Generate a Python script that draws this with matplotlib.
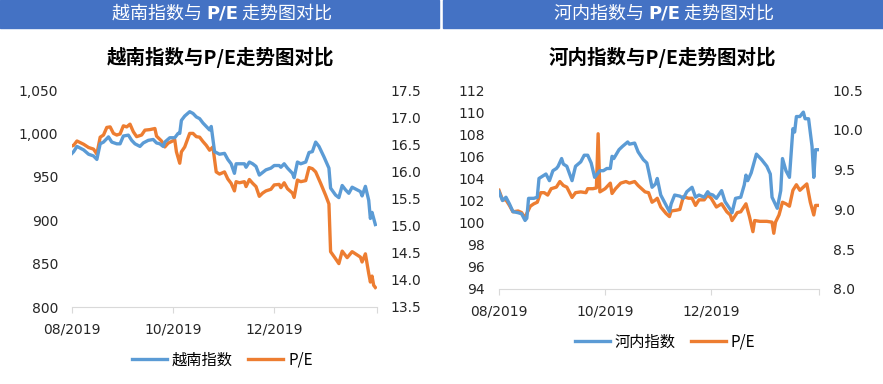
import matplotlib
matplotlib.use('Agg')
import matplotlib.pyplot as plt
from matplotlib.text import Annotation
import pandas as pd

# ************************* Data ***********************

# days counted from 2019-08-01
vn_idx_days = [0, 1, 3, 7, 10, 13, 15, 17, 19, 22, 24, 27, 29, 31, 34, 36, 38,
               41, 43, 46, 49, 51, 53, 55, 56, 59, 62, 64, 65, 66, 68, 71, 73,
               75, 77, 79, 81, 83, 84, 86, 89, 92, 94, 96, 98, 99, 101, 104,
               105, 107, 109, 111, 113, 115, 117, 120, 122, 125, 126, 128, 130,
               133, 134, 136, 138, 141, 143, 145, 147, 149, 152, 155, 156, 159,
               161, 163, 165, 167, 169, 172, 174, 175, 177, 179, 180, 181, 183]
vn_idx = [977, 979, 985, 981, 976, 974, 970, 988, 990, 996, 990, 988, 988, 997,
          998, 992, 988, 985, 989, 992, 993, 989, 988, 985, 990, 995, 995, 1000,
          1000, 1015, 1020, 1025, 1023, 1019, 1017, 1012, 1008, 1004, 1008,
          979, 976, 977, 970, 965, 954, 965, 965, 965, 961, 967, 965, 962, 952,
          955, 958, 960, 963, 963, 961, 965, 960, 954, 949, 967, 965, 967, 978,
          979, 990, 985, 973, 960, 937, 929, 926, 940, 935, 931, 938, 935, 933,
          928, 939, 923, 902, 909, 895]

vn_pe_days = [0, 1, 3, 7, 10, 13, 15, 17, 19, 21, 23, 25, 27, 29, 31, 33, 35,
              37, 39, 42, 44, 47, 50, 51, 54, 56, 58, 60, 62, 63, 65, 66, 68,
              71, 73, 75, 77, 79, 81, 83, 85, 87, 89, 92, 94, 96, 98, 99, 101,
              104, 105, 107, 109, 111, 113, 115, 117, 120, 122, 125, 126, 128,
              130, 133, 134, 136, 138, 141, 143, 145, 147, 150, 153, 155, 156,
              159, 161, 163, 166, 169, 171, 174, 175, 177, 179, 180, 181, 182,
              183]
vn_pe = [16.47, 16.48, 16.56, 16.50, 16.44, 16.41, 16.32, 16.63, 16.67, 16.81,
         16.82, 16.70, 16.67, 16.69, 16.84, 16.82, 16.87, 16.73, 16.64, 16.67,
         16.76, 16.77, 16.79, 16.65, 16.56, 16.45, 16.52, 16.55, 16.58, 16.36,
         16.15, 16.36, 16.45, 16.70, 16.70, 16.64, 16.63, 16.55, 16.48, 16.39,
         16.45, 15.99, 15.95, 15.99, 15.86, 15.78, 15.64, 15.81, 15.79, 15.81,
         15.72, 15.85, 15.78, 15.72, 15.54, 15.60, 15.64, 15.67, 15.75, 15.76,
         15.70, 15.79, 15.68, 15.60, 15.52, 15.84, 15.81, 15.83, 16.07, 16.05,
         15.99, 15.78, 15.56, 15.40, 14.52, 14.39, 14.30, 14.53, 14.41, 14.52,
         14.48, 14.42, 14.33, 14.48, 14.12, 13.96, 14.07, 13.90, 13.86]

hn_idx_days = [0, 2, 4, 6, 8, 11, 13, 15, 16, 17, 20, 22, 23, 25, 27, 29, 31,
               33, 34, 36, 37, 39, 42, 44, 47, 49, 51, 53, 55, 58, 60, 62, 64,
               65, 66, 69, 71, 74, 75, 78, 80, 83, 85, 86, 88, 90, 91, 93, 96,
               98, 99, 101, 104, 106, 108, 111, 113, 115, 118, 120, 121, 123,
               125, 128, 130, 133, 134, 136, 139, 141, 142, 143, 145, 148, 151,
               154, 156, 157, 160, 162, 163, 165, 167, 169, 170, 171, 173, 175,
               176, 178, 180, 181, 182, 184]
hn_idx = [102.8, 102.0, 102.3, 101.7, 101.0, 100.9, 100.8, 100.2, 100.4, 102.2,
          102.2, 102.3, 104.0, 104.2, 104.4, 103.8, 104.7, 104.9, 105.1, 105.8,
          105.3, 105.1, 103.8, 105.1, 105.5, 106.1, 106.1, 105.4, 104.1, 104.7,
          104.7, 104.9, 104.9, 106.0, 105.8, 106.6, 106.9, 107.3, 107.1, 107.2,
          106.4, 105.7, 105.4, 104.7, 103.2, 103.5, 104.0, 102.5, 101.6, 101.0,
          101.7, 102.5, 102.4, 102.2, 102.8, 103.2, 102.3, 102.5, 102.3, 102.8,
          102.6, 102.5, 102.2, 102.9, 101.9, 101.2, 100.9, 102.2, 102.3, 103.4,
          104.3, 103.8, 104.5, 106.2, 105.7, 105.1, 104.4, 102.3, 101.3, 102.9,
          105.8, 104.7, 104.1, 108.5, 108.2, 109.6, 109.6, 110.0, 109.4, 109.4,
          106.9, 104.1, 106.6, 106.6]

hn_pe_days = [0, 2, 4, 6, 8, 11, 13, 15, 16, 18, 20, 22, 24, 26, 28, 30, 33,
              35, 37, 39, 42, 44, 47, 50, 51, 54, 56, 57, 58, 61, 64, 65, 67,
              70, 73, 75, 78, 80, 82, 84, 86, 88, 90, 91, 93, 96, 98, 99, 102,
              104, 106, 109, 111, 113, 115, 118, 120, 122, 125, 128, 131, 133,
              134, 137, 139, 142, 144, 146, 147, 150, 154, 157, 158, 159, 161,
              163, 165, 167, 169, 171, 173, 175, 177, 179, 181, 182, 184]
hn_pe = [9.24, 9.12, 9.12, 9.05, 8.97, 8.98, 8.96, 8.89, 8.95, 9.04, 9.07, 9.09,
         9.21, 9.21, 9.18, 9.26, 9.28, 9.35, 9.30, 9.28, 9.15, 9.21, 9.22, 9.21,
         9.26, 9.26, 9.27, 9.95, 9.22, 9.26, 9.33, 9.20, 9.26, 9.33, 9.35, 9.33,
         9.35, 9.30, 9.26, 9.22, 9.21, 9.09, 9.12, 9.14, 9.03, 8.95, 8.91, 8.98,
         8.99, 9.00, 9.16, 9.14, 9.14, 9.05, 9.12, 9.12, 9.18, 9.14, 9.03, 9.07,
         8.97, 8.93, 8.86, 8.96, 8.97, 9.07, 8.91, 8.72, 8.86, 8.85, 8.85, 8.84,
         8.70, 8.84, 8.93, 9.09, 9.07, 9.04, 9.24, 9.31, 9.24, 9.28, 9.32, 9.09,
         8.93, 9.05, 9.05]

x_tick_labels = ['08/2019', '10/2019', '12/2019', '']
banner_texts = [('越南指数与 ', 'P/E', ' 走势图对比'),
                ('河内指数与 ', 'P/E', ' 走势图对比')]
chart_titles = ['越南指数与P/E走势图对比', '河内指数与P/E走势图对比']
legend_names = [['越南指数', 'P/E'], ['河内指数', 'P/E']]

# ************************* Styling *******************************************

plt.rcParams['font.family'] = ['DejaVu Sans', 'Noto Sans CJK SC']
CJK = ['Noto Sans CJK SC', 'DejaVu Sans']
BLUE = '#5B9BD5'
ORANGE = '#ED7D31'
BANNER = '#4472C4'
TEXT = '#262626'
START = pd.Timestamp('2019-08-01')
tick_dates = [pd.Timestamp(d) for d in
              ['2019-08-01', '2019-10-01', '2019-12-01', '2020-02-01']]


def to_dates(days):
    return [START + pd.Timedelta(days=d) for d in days]


def draw_panel(rect, idx_days, idx, pe_days, pe, left_lim, left_ticks,
               right_lim, right_ticks, left_fmt, right_fmt):
    """draws one twin axis panel, returns the two line handles"""
    ax = fig.add_axes(rect)
    ax2 = ax.twinx()
    l1, = ax.plot(to_dates(idx_days), idx, color=BLUE, lw=2.4,
                  solid_joinstyle='round')
    l2, = ax2.plot(to_dates(pe_days), pe, color=ORANGE, lw=2.4,
                   solid_joinstyle='round')
    ax.set_zorder(ax2.get_zorder() + 1)
    ax.patch.set_visible(False)

    ax.set_xlim(tick_dates[0], tick_dates[-1])
    ax.set_xticks(tick_dates)
    ax.set_xticklabels(x_tick_labels)
    ax.set_ylim(*left_lim)
    ax.set_yticks(left_ticks)
    ax.set_yticklabels([left_fmt.format(v) for v in left_ticks])
    ax2.set_ylim(*right_lim)
    ax2.set_yticks(right_ticks)
    ax2.set_yticklabels([right_fmt.format(v) for v in right_ticks])

    for a in (ax, ax2):
        for side in ('top', 'left', 'right'):
            a.spines[side].set_visible(False)
        a.spines['bottom'].set_color('#D9D9D9')
        a.tick_params(axis='y', length=0, pad=10, labelsize=10,
                      labelcolor=TEXT)
    ax2.spines['bottom'].set_visible(False)
    ax.tick_params(axis='x', length=4, color='#D9D9D9', pad=7, labelsize=10,
                   labelcolor=TEXT)
    return l1, l2


# ************************* Figure ********************************************

fig = plt.figure(figsize=(8.83, 3.84), dpi=100)

# blue banners across the top
fig.patches.append(plt.Rectangle((0, 1 - 27.5 / 384), 439 / 883, 27.5 / 384,
                                 transform=fig.transFigure, color=BANNER))
fig.patches.append(plt.Rectangle((443 / 883, 1 - 27.5 / 384), 440 / 883,
                                 27.5 / 384, transform=fig.transFigure,
                                 color=BANNER))
for x0, parts in zip([112 / 883, 554 / 883], banner_texts):
    t1 = fig.text(x0, 1 - 23 / 384, parts[0], color='white', fontsize=13,
                  family=CJK, va='bottom')
    t2 = fig.add_artist(Annotation(parts[1], xy=(1, 0), xycoords=t1,
                                   color='white', fontsize=13, weight='bold',
                                   va='bottom'))
    fig.add_artist(Annotation(parts[2], xy=(1, 0), xycoords=t2,
                              color='white', fontsize=13, family=CJK,
                              va='bottom'))

# chart titles
fig.text(220 / 883, 1 - 57 / 384, chart_titles[0], fontsize=14,
         weight='bold', family=CJK, ha='center', va='center', color='black')
fig.text(662 / 883, 1 - 57 / 384, chart_titles[1], fontsize=14,
         weight='bold', family=CJK, ha='center', va='center', color='black')

# left panel: Vietnam index
h_left = draw_panel([72 / 883, 77 / 384, 305 / 883, 217 / 384],
                    vn_idx_days, vn_idx, vn_pe_days, vn_pe,
                    (800, 1050), list(range(800, 1051, 50)),
                    (13.5, 17.5), [13.5 + 0.5 * i for i in range(9)],
                    '{:,.0f}', '{:.1f}')

# right panel: Hanoi index
h_right = draw_panel([499 / 883, 95 / 384, 320 / 883, 199 / 384],
                     hn_idx_days, hn_idx, hn_pe_days, hn_pe,
                     (94, 112), list(range(94, 113, 2)),
                     (8.0, 10.5), [8.0 + 0.5 * i for i in range(6)],
                     '{:.0f}', '{:.1f}')

for handles, names, pos in [(h_left, legend_names[0], (0.252, 1 - 360 / 384)),
                            (h_right, legend_names[1], (0.753, 1 - 342 / 384))]:
    fig.legend(handles, names, loc='center', bbox_to_anchor=pos, ncol=2,
               frameon=False, handlelength=2.3, handletextpad=0.3,
               columnspacing=1.0, prop={'family': CJK, 'size': 11})

fig.savefig('out.png', dpi=100)
